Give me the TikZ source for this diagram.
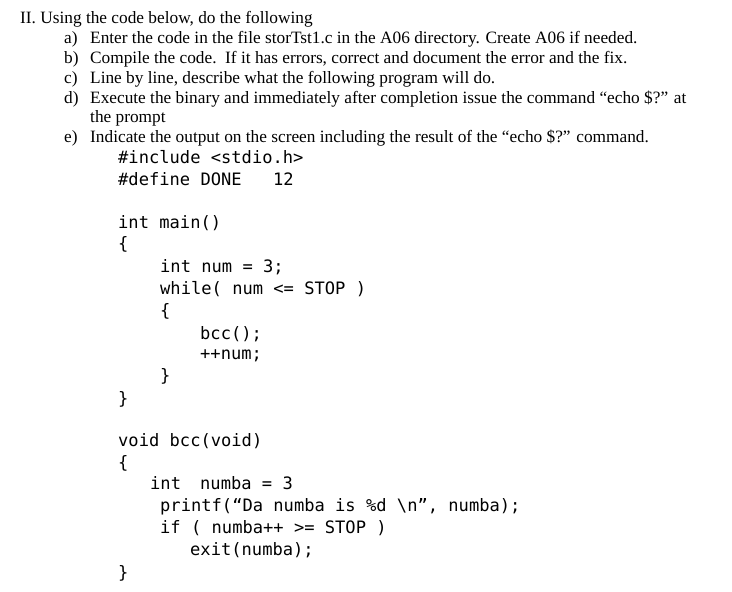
\documentclass[tikz,border=0pt]{standalone}
\usepackage{fontspec}
\setmainfont{Liberation Serif}
\newfontfamily\codefont{DejaVu Sans Mono}
\begin{document}
\begin{tikzpicture}[x=1pt,y=-1pt,
  tx/.style={anchor=base west,inner sep=0pt,font=\fontsize{17.3}{19}\selectfont},
  cd/.style={anchor=base west,inner sep=0pt,font=\codefont\fontsize{17.1}{19}\selectfont}]
\useasboundingbox (0,0) rectangle (732,592);
\node[tx] (h) at (20,23) {II. Using the code below, do the following};
\node[tx] (la) at (64,43) {a)}; \node[tx] (ta) at (90,43) {Enter the code in the file storTst1.c in the A06 directory. Create A06 if needed.};
\node[tx] (lb) at (64,63) {b)}; \node[tx] (tb) at (90,63) {Compile the code.\ \ If it has errors, correct and document the error and the fix.};
\node[tx] (lc) at (64,83) {c)}; \node[tx] (tc) at (90,83) {Line by line, describe what the following program will do.};
\node[tx] (ld) at (64,103) {d)}; \node[tx] (td) at (90,103) {Execute the binary and immediately after completion issue the command “echo \$?” at};
\node[tx] (td2) at (90,122) {the prompt};
\node[tx] (le) at (64,142) {e)}; \node[tx] (te) at (90,142) {Indicate the output on the screen including the result of the “echo \$?” command.};
\node[cd] (c1) at (118,163) {\#include <stdio.h>};
\node[cd] (c2) at (118,185) {\#define DONE};
\node[cd] (c2b) at (273,185) {12};
\node[cd] (c3) at (118,228) {int main()};
\node[cd] (c4) at (118,249) {\{};
\node[cd] (c5) at (160,272) {int num = 3;};
\node[cd] (c6) at (160,294) {while( num <= STOP )};
\node[cd] (c7) at (160,316) {\{};
\node[cd] (c8) at (200,339) {bcc();};
\node[cd] (c9) at (200,359) {++num;};
\node[cd] (c10) at (160,381) {\}};
\node[cd] (c11) at (118,404) {\}};
\node[cd] (c12) at (118,446) {void bcc(void)};
\node[cd] (c13) at (118,468) {\{};
\node[cd] (c14) at (150,489) {int};
\node[cd] (c14b) at (200,489) {numba = 3};
\node[cd] (c15) at (160,511) {printf(“Da numba is \%d \textbackslash n”, numba);};
\node[cd] (c16) at (160,533) {if ( numba++ >= STOP )};
\node[cd] (c17) at (190,555) {exit(numba);};
\node[cd] (c18) at (118,578) {\}};
\end{tikzpicture}
\end{document}
